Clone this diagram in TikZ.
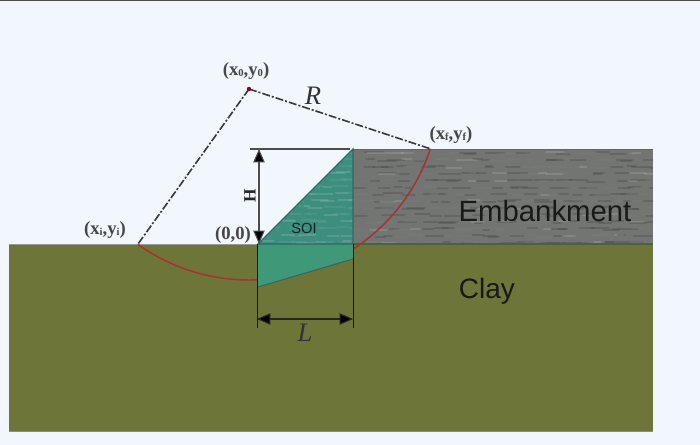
\documentclass[tikz,border=0pt]{standalone}
\usepackage{fontspec}
\setmainfont{Liberation Serif}
\setsansfont{Liberation Sans}
\definecolor{bgc}{HTML}{F2F7FE}
\definecolor{clayc}{HTML}{6E7539}
\definecolor{embc}{HTML}{727572}
\definecolor{soic}{HTML}{3E8E7E}
\definecolor{lowc}{HTML}{3F9878}
\definecolor{edgec}{HTML}{2F6A66}
\definecolor{redc}{HTML}{A8322E}
\usetikzlibrary{arrows.meta}
\tikzset{
  x=0.75pt,y=-0.75pt,
  coordlabel/.style={font=\fontsize{14pt}{16pt}\selectfont\bfseries,text=black!72,inner sep=0pt},
  dimline/.style={draw=black!70,line width=0.8pt},
  dimarrow/.style={draw=black!70,line width=0.8pt,{Triangle[length=10pt,width=8.5pt,fill=black]}-{Triangle[length=10pt,width=8.5pt,fill=black]}},
  radius line/.style={draw=black!78,line width=1.2pt,dash pattern=on 6pt off 1.5pt on 1.5pt off 1.5pt},
  slip/.style={draw=redc,line width=1.1pt},
  soilname/.style={font=\sffamily,inner sep=0pt,text=black!90},
}
\newcommand{\lowsub}[1]{\raisebox{-0.15ex}{\fontsize{8pt}{9pt}\selectfont #1}}
\begin{document}
\begin{tikzpicture}
\useasboundingbox (0,0) rectangle (700,445);
\fill[bgc] (0,0) rectangle (700,445);
\fill[black!70] (0,0) rectangle (700,1);
% clay
\fill[clayc] (9,244) rectangle (653,431);
\draw[black!45,line width=0.5pt] (9,431) -- (653,431);
% embankment
\fill[embc] (353,149) rectangle (653,244);
\begin{scope}
\clip (353,149) rectangle (653,244);
\pgfmathsetseed{4711}
\foreach \r in {0,...,13}{
  \foreach \k in {0,...,24}{
    \pgfmathsetmacro{\xa}{353+12*\k+14*rnd}
    \pgfmathsetmacro{\yy}{152+6.9*\r+2*rnd}
    \pgfmathsetmacro{\len}{6+14*rnd}
    \pgfmathsetmacro{\shade}{rnd<0.12?72:(rnd<0.5?50:24)}
    \draw[line width=1.5pt,line cap=round,color=white!\shade!black,opacity=0.26] (\xa,\yy) -- ++(\len,0);
  }
}
\end{scope}
\draw[edgec!70!gray,line width=0.7pt] (353,149) -- (653,149);
\draw[black!20!clayc!70!edgec,line width=0.9pt] (353,244) -- (653,244);
\draw[black!40,line width=0.5pt] (9,244) -- (258,244);
% slip circle
\coordinate (centre) at (249,89);
\coordinate (start) at (138,244);
\coordinate (finish) at (431,149);
\draw[slip] plot[smooth,domain=125.6:18.2,samples=70] ({249+191*cos(\x)},{89+191*sin(\x)});
% SOI
\coordinate (toe) at (258,244);
\coordinate (crest) at (353,149);
\coordinate (base) at (353,244);
\fill[lowc] (toe) -- (base) -- (353,259) -- (258,287) -- cycle;
\fill[soic] (toe) -- (crest) -- (base) -- cycle;
\begin{scope}
\clip (toe) -- (crest) -- (base) -- cycle;
\pgfmathsetseed{271}
\foreach \r in {0,...,13}{
  \foreach \k in {0,...,8}{
    \pgfmathsetmacro{\xa}{258+12*\k+12*rnd}
    \pgfmathsetmacro{\yy}{151+6.9*\r+2*rnd}
    \pgfmathsetmacro{\len}{5+12*rnd}
    \pgfmathsetmacro{\shade}{rnd<0.3?50:22}
    \draw[line width=1.5pt,line cap=round,color=white!\shade!soic,opacity=0.25] (\xa,\yy) -- ++(\len,0);
  }
}
\end{scope}
\draw[edgec,line width=0.9pt] (toe) -- (crest) -- (base) -- cycle;
\draw[edgec,line width=0.8pt] (258,287) -- (353,259);
% dimension lines
\coordinate (Htop) at (250,149);
\coordinate (Hend) at (350,149);
\coordinate (Ha) at (259,149);
\coordinate (Hb) at (259,244);
\draw[dimline] (Htop) -- (Hend);
\draw[dimarrow] (Ha) -- (Hb);
\coordinate (La) at (257,244);
\coordinate (Lb) at (257,328);
\coordinate (Ra) at (353,244);
\coordinate (Rb) at (353,328);
\draw[black!80!clayc,line width=0.7pt] (La) -- (Lb);
\draw[black!80!clayc,line width=0.7pt] (Ra) -- (Rb);
\coordinate (Da) at (257,319);
\coordinate (Db) at (353,319);
\draw[dimarrow,draw=black!85] (Da) -- (Db);
% radii
\draw[radius line] (centre) -- (start);
\draw[radius line] (centre) -- (finish);
\fill[purple!70!black] (centre) circle (2.2);
% labels
\node[coordlabel] (lc) at (246,71) {(x\lowsub{0},y\lowsub{0})};
\node[coordlabel] (lf) at (451,135) {(x\lowsub{f},y\lowsub{f})};
\node[coordlabel] (li) at (105,230) {(x\lowsub{i},y\lowsub{i})};
\node[coordlabel] (lo) at (233,235) {(0,0)};
\node[font=\fontsize{20pt}{22pt}\selectfont\itshape,inner sep=0pt,text=black!80] (lR) at (313,96) {R};
\node[font=\fontsize{20pt}{22pt}\selectfont\itshape,inner sep=0pt,text=black!80] (lL) at (305,333) {L};
\node[font=\fontsize{13pt}{15pt}\selectfont\bfseries,inner sep=0pt,rotate=90,text=black!85] (lH) at (250,196) {H};
\node[soilname,font=\sffamily\fontsize{11pt}{12pt}\selectfont,text=black!75!soic] (lS) at (304,228) {SOI};
\node[soilname,font=\sffamily\fontsize{22pt}{25pt}\selectfont] (lE) at (545,211) {Embankment};
\node[soilname,font=\sffamily\fontsize{21pt}{24pt}\selectfont] (lC) at (487,291) {Clay};
\end{tikzpicture}
\end{document}
